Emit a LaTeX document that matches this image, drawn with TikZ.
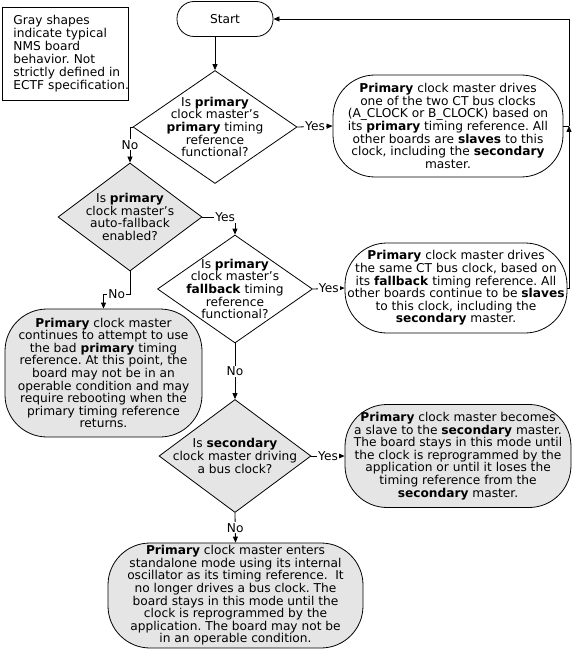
\documentclass[tikz,border=0pt]{standalone}
\usepackage{fontspec}
\setmainfont{DejaVu Sans}
\usetikzlibrary{arrows.meta,shapes.geometric,positioning}
\frenchspacing

\begin{document}
\begin{tikzpicture}[x=1pt, y=-1pt, >={Triangle[length=6pt,width=5pt]},
	   font=\fontsize{12.2}{12.6}\selectfont, line width=0.8pt,
	   box/.style={draw, rounded corners=42pt, align=center, inner sep=2pt},
	   grey/.style={fill=black!10},
	   dec/.style={draw, diamond, inner sep=0pt},
	   dtxt/.style={align=center, inner sep=0pt},
	   lbl/.style={fill=white, inner sep=1pt}]
	  \useasboundingbox (0,0) rectangle (574,652);
	  % legend
	  \node[draw, align=left, text width=104pt, inner xsep=11pt, minimum height=93pt, anchor=north west] (note) at (2,7)
	    {\begin{tabular}{@{}l@{}}Gray shapes\\indicate typical\\NMS board\\behavior. Not\\strictly defined in\\ECTF specification.\end{tabular}};
	  \node[box, rounded corners=17pt, minimum width=96pt, minimum height=35pt] (start) at (225,19) {Start};
	  % decisions
	  \node[dec, minimum width=164pt, minimum height=113pt] (d1) at (215,127) {};
	  \node[dtxt] (d1t) at (d1) {Is \textbf{primary}\\clock master's\\\textbf{primary} timing\\reference\\functional?};
	  \node[dec, grey, minimum width=144pt, minimum height=108pt] (d2) at (130,217) {};
	  \node[dtxt] (d2t) at (d2) {Is \textbf{primary}\\clock master's\\auto-fallback\\enabled?};
	  \node[dec, minimum width=155pt, minimum height=108pt] (d3) at (235,289) {};
	  \node[dtxt] (d3t) at (d3) {Is \textbf{primary}\\clock master's\\\textbf{fallback} timing\\reference\\functional?};
	  \node[dec, grey, minimum width=152pt, minimum height=113pt] (d4) at (235,456) {};
	  \node[dtxt] (d4t) at (d4) {Is \textbf{secondary}\\clock master driving\\a bus clock?};
	  % outcomes
	  \node[box, minimum width=230pt, minimum height=102pt] (b1) at (448,126)
	    {\textbf{Primary} clock master drives\\one of the two CT bus clocks\\(A\_CLOCK or B\_CLOCK) based on\\its \textbf{primary} timing reference. All\\other boards are \textbf{slaves} to this\\clock, including the \textbf{secondary}\\master.};
	  \node[box, minimum width=222pt, minimum height=90pt] (b2) at (456,288)
	    {\textbf{Primary} clock master drives\\the same CT bus clock, based on\\its \textbf{fallback} timing reference. All\\other boards continue to be \textbf{slaves}\\to this clock, including the\\\textbf{secondary} master.};
	  \node[box, grey, minimum width=197pt, minimum height=128pt] (b3) at (103.5,373)
	    {\textbf{Primary} clock master\\continues to attempt to use\\the bad \textbf{primary} timing\\reference. At this point, the\\board may not be in an\\operable condition and may\\require rebooting when the\\primary timing reference\\returns.};
	  \node[box, grey, minimum width=226pt, minimum height=103pt] (b4) at (458,456)
	    {\textbf{Primary} clock master becomes\\a slave to the \textbf{secondary} master.\\The board stays in this mode until\\the clock is reprogrammed by the\\application or until it loses the\\timing reference from the\\\textbf{secondary} master.};
	  \node[box, grey, minimum width=255pt, minimum height=105pt] (b5) at (235.5,595.5)
	    {\textbf{Primary} clock master enters\\standalone mode using its internal\\oscillator as its timing reference.~ It\\no longer drives a bus clock. The\\board stays in this mode until the\\clock is reprogrammed by the\\application. The board may not be\\in an operable condition.};
	  % flow
	  \draw[->] (d1.north |- start.south) -- (d1.north);
	  \draw[->] (d1.east) -- node[lbl]{Yes} (b1.west);
	  \draw[->] (d1.west) -| node[lbl, pos=0.75]{No} (d2.north);
	  \draw[->] (d2.east) -| node[lbl, pos=0.35]{Yes} (d3.north);
	  \draw[->] (d2.south) -- ++(0,23) -| node[lbl, pos=0.25]{No} (b3.north);
	  \draw[->] (d3.east) -- node[lbl]{Yes} (b2.west);
	  \draw[->] (d3.south) -- node[lbl]{No} (d4.north);
	  \draw[->] (d4.east) -- node[lbl]{Yes} (b4.west);
	  \draw[->] (d4.south) -- node[lbl]{No} (b5.north);
	  % back to start
	  \coordinate (jn) at (569,126);
	  \draw (b1.east) -- (jn);
	  \draw[->] (b2.east) -| (jn);
	  \draw[->] (jn) |- (start.east);
	\end{tikzpicture}
\end{document}
